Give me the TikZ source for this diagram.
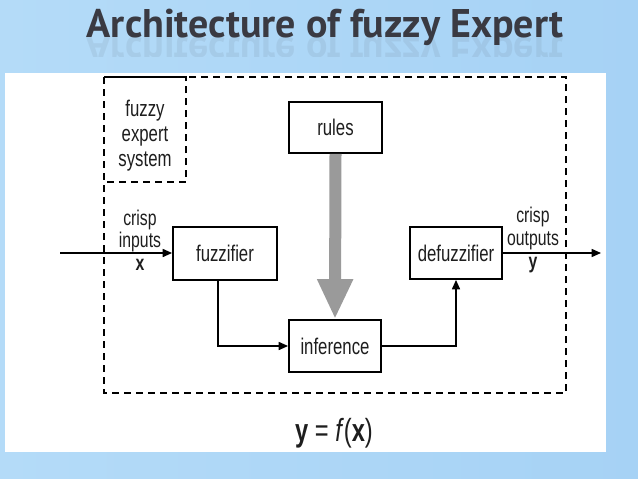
\documentclass[tikz,border=0pt]{standalone}
\usepackage{fontspec}
\setmainfont{Liberation Sans}
\newfontfamily\narrowfont[FakeStretch=0.74]{Liberation Sans}
\newfontfamily\titlefont{PT Sans Bold}
\usetikzlibrary{arrows.meta}
\definecolor{bgright}{HTML}{A6D2F5}
\definecolor{bgleft}{HTML}{B4DBF8}
\definecolor{titlegray}{HTML}{3A3A42}
\definecolor{rulegray}{HTML}{9A9A9A}
\definecolor{ink}{HTML}{1E1E1E}
\begin{document}
\begin{tikzpicture}[x=0.75pt,y=-0.75pt,
  box/.style={draw=black, line width=1.4pt, fill=white, inner sep=0pt, text=ink,
    font=\narrowfont\fontsize{17pt}{18pt}\selectfont},
  lbl/.style={align=center, inner sep=0pt, text=ink,
    font=\narrowfont\fontsize{16pt}{16.9pt}\selectfont},
  dashbox/.style={draw=black, line width=1.9pt, dash pattern=on 5.25pt off 3.75pt},
  conn/.style={draw=black, line width=1.1pt, -{Triangle[length=7pt,width=6pt]}}]
\useasboundingbox (0,0) rectangle (638,478);
% background
\shade[left color=bgleft, middle color=white, right color=bgright] (0,0) rectangle (638,478);
\fill[white] (5,73) rectangle (606,452);
% title
\begin{scope}
  \clip (0,38) rectangle (638,57);
  \node[anchor=base, yscale=-1, opacity=0.08, text=titlegray, inner sep=0pt,
    font=\titlefont\fontsize{30pt}{30pt}\selectfont] (titlerefl) at (325,38) {Architecture of fuzzy Expert};
\end{scope}
\node[anchor=base, text=titlegray, inner sep=0pt,
  font=\titlefont\fontsize{30pt}{30pt}\selectfont] (title) at (325,38) {Architecture of fuzzy Expert};
% dashed boxes
\draw[dashbox] (104,77) rectangle (566,393);
\draw[dashbox] (104,77) rectangle (186,182);
\node[lbl, font=\narrowfont\fontsize{17pt}{18.75pt}\selectfont] (fes) at (145,136) {fuzzy\\expert\\system};
% blocks
\node[box, minimum width=69.75pt, minimum height=38.25pt] (rules) at (335.5,127.5) {rules};
\node[box, minimum width=78pt, minimum height=39.75pt] (fuz) at (225,253.5) {fuzzifier};
\node[box, minimum width=69pt, minimum height=39pt] (def) at (456,253) {defuzzifier};
\node[box, minimum width=69pt, minimum height=39pt] (inf) at (335,346) {inference};
% labels
\node[lbl] (inlbl) at (140,240) {crisp\\inputs\\\textbf{x}};
\node[lbl] (outlbl) at (533,240) {crisp\\outputs\\\textbf{y}};
% connectors
\coordinate (in) at (60,253);
\coordinate (out) at (601,253);
\draw[conn] (in) -- (fuz.west |- in);
\draw[conn] ([xshift=-5.25pt]fuz.south) |- (inf.west);
\draw[conn] (inf.east) -| (def.south);
\draw[conn] (def.east |- out) -- (out);
\draw[rulegray, line width=9pt, -{Triangle[length=30pt,width=25pt]}] (rules.south) -- (inf.north);
% equation
\node[inner sep=0pt, text=ink, font=\narrowfont\fontsize{24pt}{24pt}\selectfont] (eq) at (334,433)
  {\textbf{y} = \textit{f}(\textbf{x})};
\end{tikzpicture}
\end{document}
